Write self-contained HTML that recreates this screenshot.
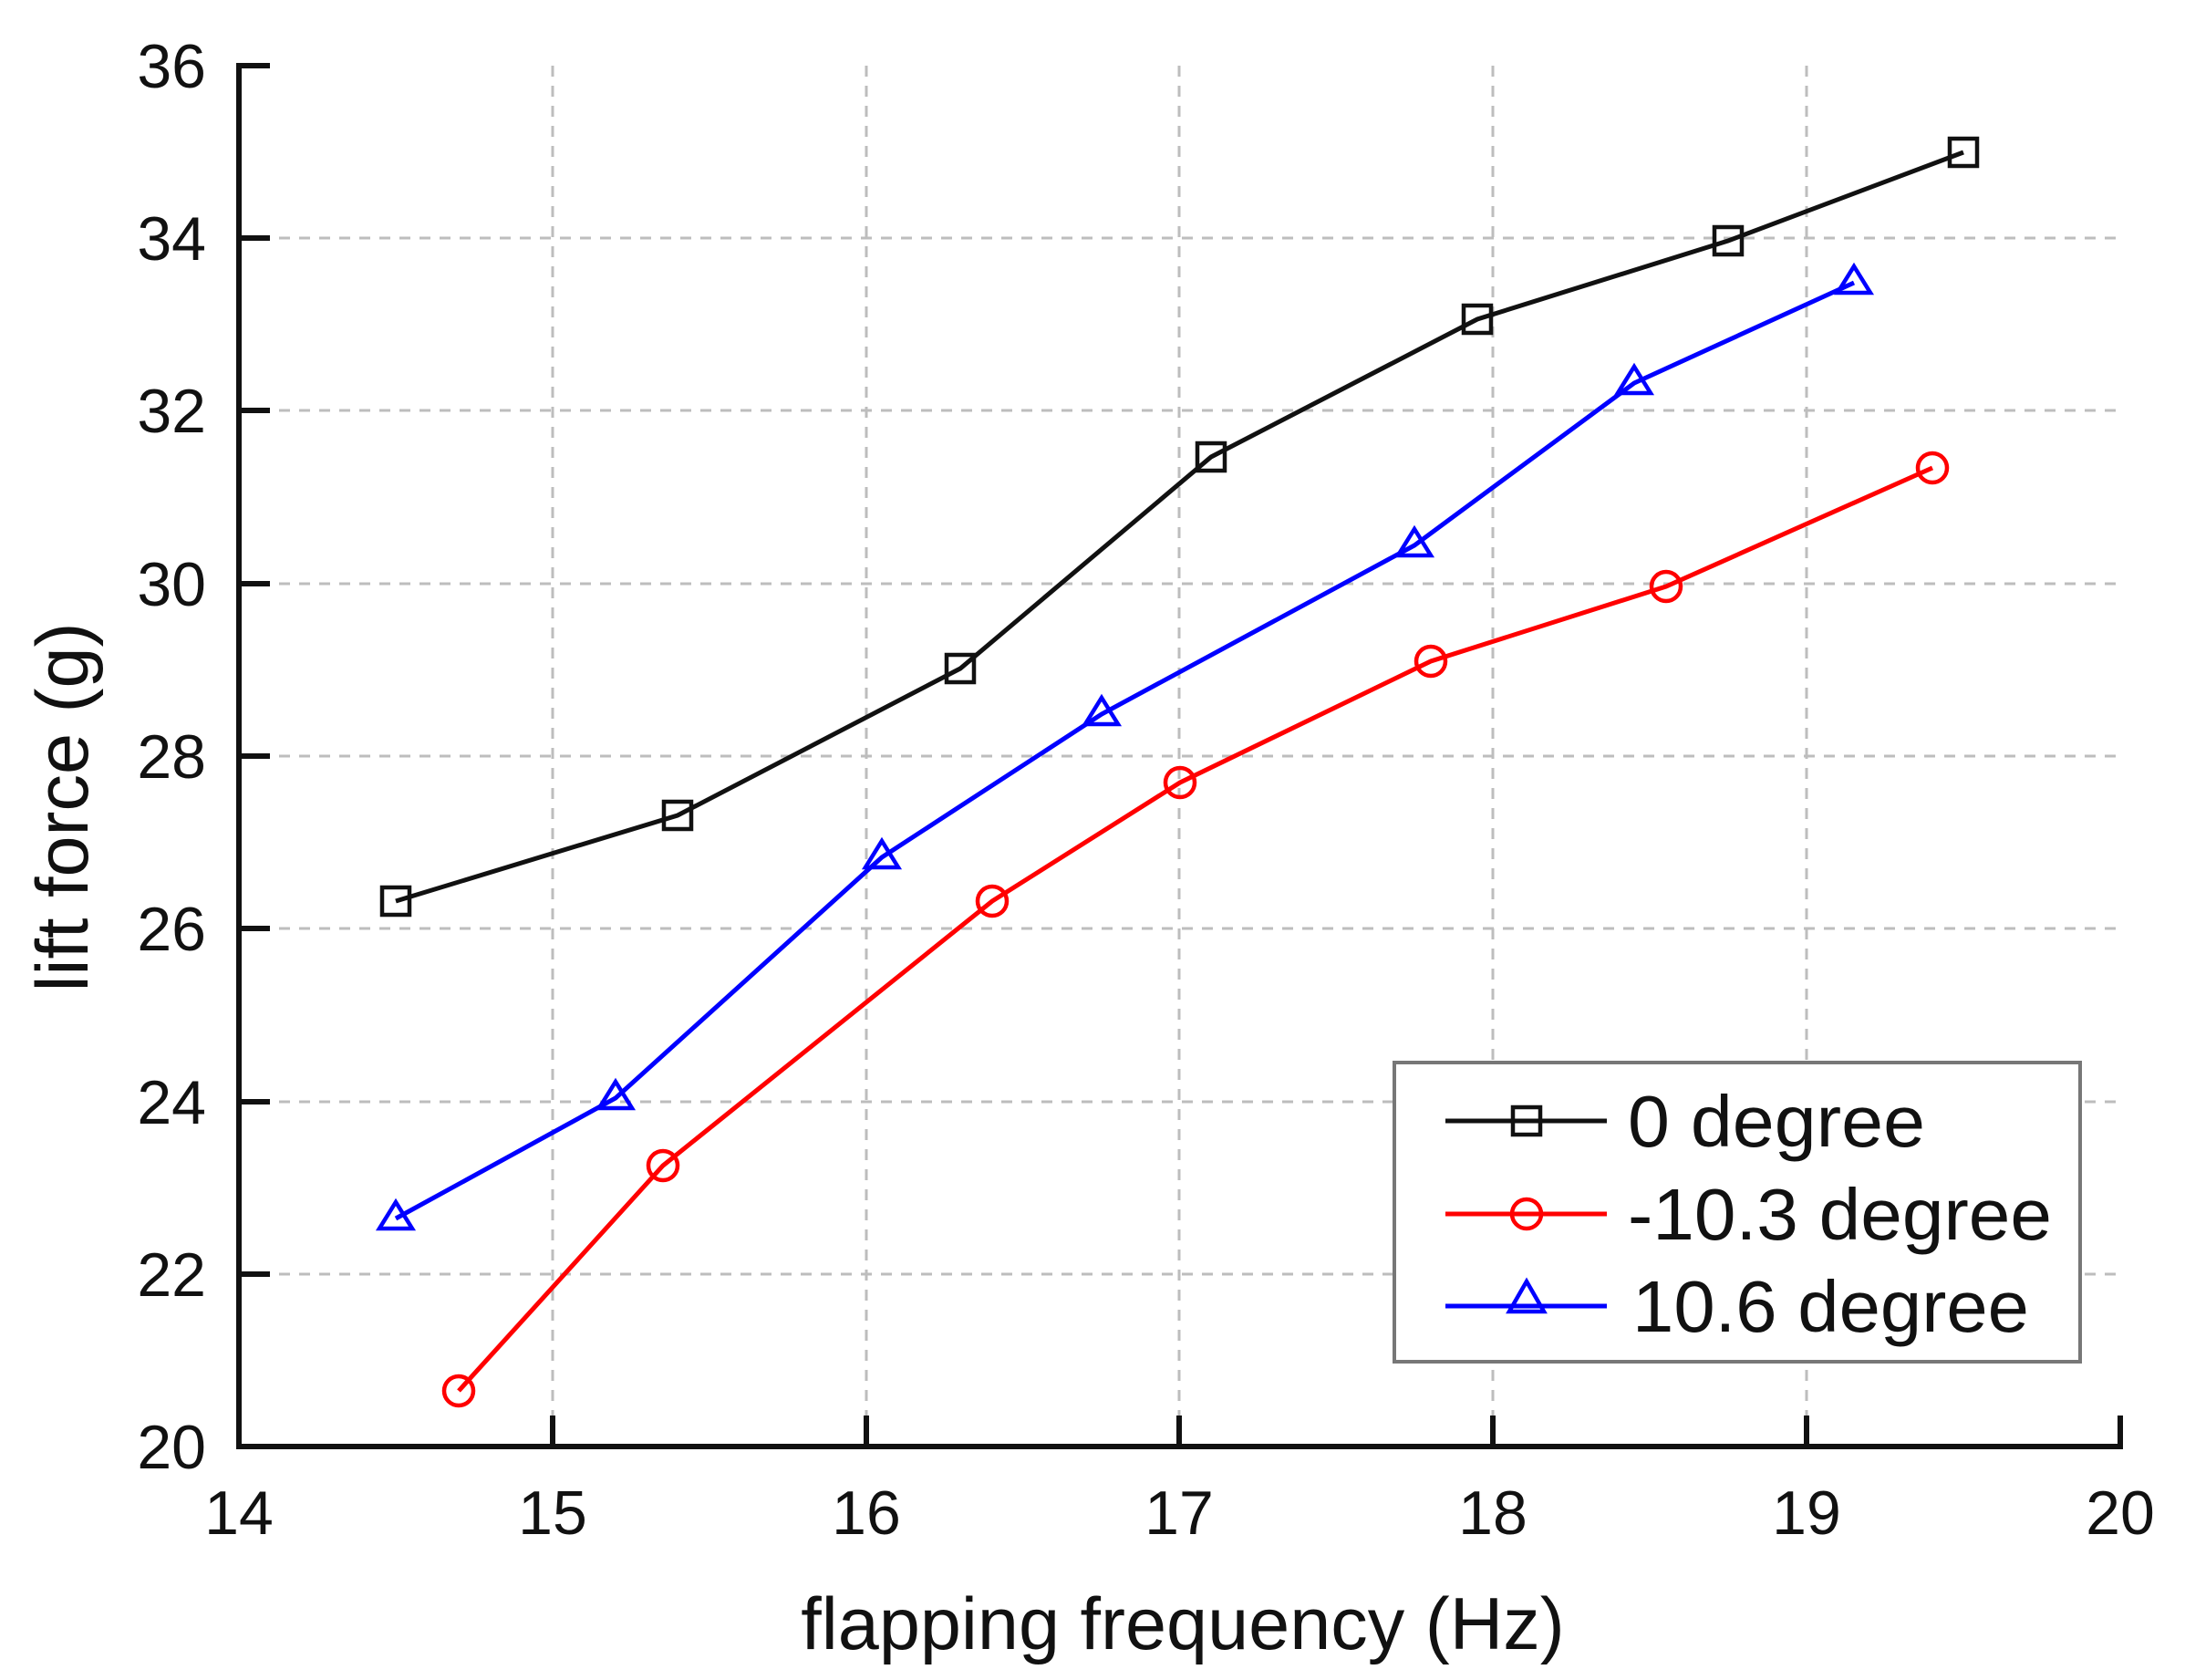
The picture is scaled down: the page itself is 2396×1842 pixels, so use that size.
<!DOCTYPE html>
<html><head><meta charset="utf-8"><style>
html,body{margin:0;padding:0;background:#fff;}
svg{display:block;font-family:"Liberation Sans",Arial,sans-serif;}
</style></head><body>
<svg width="2396" height="1842" viewBox="0 0 2396 1842" xmlns="http://www.w3.org/2000/svg">
<g stroke="#bdbdbd" stroke-width="3" stroke-dasharray="12,10">
<line x1="606" y1="72" x2="606" y2="1586"/>
<line x1="950" y1="72" x2="950" y2="1586"/>
<line x1="1293" y1="72" x2="1293" y2="1586"/>
<line x1="1637" y1="72" x2="1637" y2="1586"/>
<line x1="1981" y1="72" x2="1981" y2="1586"/>
<line x1="262" y1="1397" x2="2325" y2="1397"/>
<line x1="262" y1="1208" x2="2325" y2="1208"/>
<line x1="262" y1="1018" x2="2325" y2="1018"/>
<line x1="262" y1="829" x2="2325" y2="829"/>
<line x1="262" y1="640" x2="2325" y2="640"/>
<line x1="262" y1="450" x2="2325" y2="450"/>
<line x1="262" y1="261" x2="2325" y2="261"/>
</g>
<g stroke="#111" stroke-width="6" fill="none">
<polyline points="296,72 262,72 262,1586 2325,1586 2325,1552"/>
<line x1="262" y1="1397" x2="296" y2="1397"/>
<line x1="262" y1="1208" x2="296" y2="1208"/>
<line x1="262" y1="1018" x2="296" y2="1018"/>
<line x1="262" y1="829" x2="296" y2="829"/>
<line x1="262" y1="640" x2="296" y2="640"/>
<line x1="262" y1="450" x2="296" y2="450"/>
<line x1="262" y1="261" x2="296" y2="261"/>
<line x1="606" y1="1586" x2="606" y2="1552"/>
<line x1="950" y1="1586" x2="950" y2="1552"/>
<line x1="1293" y1="1586" x2="1293" y2="1552"/>
<line x1="1637" y1="1586" x2="1637" y2="1552"/>
<line x1="1981" y1="1586" x2="1981" y2="1552"/>
</g>
<g font-size="68" fill="#111" text-anchor="end">
<text x="226" y="96">36</text>
<text x="226" y="285">34</text>
<text x="226" y="474">32</text>
<text x="226" y="664">30</text>
<text x="226" y="853">28</text>
<text x="226" y="1042">26</text>
<text x="226" y="1232">24</text>
<text x="226" y="1421">22</text>
<text x="226" y="1610">20</text>
</g>
<g font-size="68" fill="#111" text-anchor="middle">
<text x="262" y="1682">14</text>
<text x="606" y="1682">15</text>
<text x="950" y="1682">16</text>
<text x="1293" y="1682">17</text>
<text x="1637" y="1682">18</text>
<text x="1981" y="1682">19</text>
<text x="2325" y="1682">20</text>
</g>
<text x="1297" y="1808" font-size="81" fill="#111" text-anchor="middle">flapping frequency (Hz)</text>
<text transform="translate(96,885) rotate(-90)" font-size="81" fill="#111" text-anchor="middle">lift force (g)</text>
<polyline fill="none" stroke="#111" stroke-width="5" points="434,988 743,894 1053,733 1328,501 1620,350 1895,264 2153,167"/>
<g fill="none" stroke="#111" stroke-width="4.5">
<rect x="419" y="973" width="30" height="30"/><rect x="728" y="879" width="30" height="30"/><rect x="1038" y="718" width="30" height="30"/><rect x="1313" y="486" width="30" height="30"/><rect x="1605" y="335" width="30" height="30"/><rect x="1880" y="249" width="30" height="30"/><rect x="2138" y="152" width="30" height="30"/>
</g>
<polyline fill="none" stroke="#ff0000" stroke-width="5" points="503,1525 727,1278 1088,988 1294,858 1569,725 1827,643 2119,513"/>
<g fill="none" stroke="#ff0000" stroke-width="4.5">
<circle cx="503" cy="1525" r="16"/><circle cx="727" cy="1278" r="16"/><circle cx="1088" cy="988" r="16"/><circle cx="1294" cy="858" r="16"/><circle cx="1569" cy="725" r="16"/><circle cx="1827" cy="643" r="16"/><circle cx="2119" cy="513" r="16"/>
</g>
<polyline fill="none" stroke="#0000ff" stroke-width="5" points="434,1336 675,1204 967,940 1208,783 1551,598 1792,420 2033,310"/>
<g fill="none" stroke="#0000ff" stroke-width="4.5">
<polygon points="434,1318 452,1347 416,1347"/><polygon points="675,1186 693,1215 657,1215"/><polygon points="967,922 985,951 949,951"/><polygon points="1208,765 1226,794 1190,794"/><polygon points="1551,580 1569,609 1533,609"/><polygon points="1792,402 1810,431 1774,431"/><polygon points="2033,292 2051,321 2015,321"/>
</g>
<rect x="1529" y="1165" width="752" height="328" fill="#fff" stroke="#777" stroke-width="4"/>
<line x1="1585" y1="1229" x2="1762" y2="1229" stroke="#111" stroke-width="5"/>
<rect x="1659" y="1214" width="30" height="30" fill="none" stroke="#111" stroke-width="4.5"/>
<line x1="1585" y1="1331" x2="1762" y2="1331" stroke="#ff0000" stroke-width="5"/>
<circle cx="1674" cy="1331" r="16" fill="none" stroke="#ff0000" stroke-width="4.5"/>
<line x1="1585" y1="1432" x2="1762" y2="1432" stroke="#0000ff" stroke-width="5"/>
<polygon points="1674,1405 1693,1438 1655,1438" fill="none" stroke="#0000ff" stroke-width="4.5"/>
<g font-size="80" fill="#111">
<text x="1785" y="1257" textLength="326" lengthAdjust="spacingAndGlyphs">0 degree</text>
<text x="1785" y="1359" textLength="465" lengthAdjust="spacingAndGlyphs">-10.3 degree</text>
<text x="1790" y="1460" textLength="435" lengthAdjust="spacingAndGlyphs">10.6 degree</text>
</g>
</svg>
</body></html>
